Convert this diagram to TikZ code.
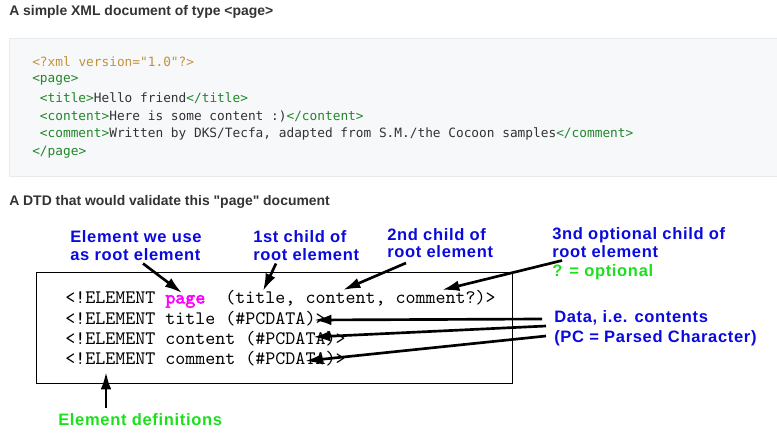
\documentclass[tikz,border=0pt]{standalone}
\usepackage{fontspec}
\setmainfont{Liberation Sans}
\newfontfamily\xmlfont{DejaVu Sans Mono}
\newfontfamily\dtdfont[BoldFont=lmmono10-regular.otf,BoldFeatures={FakeBold=2.5}]{lmmono10-regular.otf}
\newfontfamily\notefont[LetterSpace=4]{Liberation Sans}
\usetikzlibrary{arrows.meta,calc}
\definecolor{headgray}{HTML}{333333}
\definecolor{codebg}{HTML}{F6F8FA}
\definecolor{codeborder}{HTML}{E8EAED}
\definecolor{declbrown}{HTML}{C4923A}
\definecolor{taggreen}{HTML}{22862A}
\definecolor{xmltext}{HTML}{333333}
\definecolor{pagepink}{HTML}{FF00FF}
\definecolor{noteblue}{HTML}{0A0ADC}
\definecolor{notegreen}{HTML}{1CE01C}
\newcommand{\xmltag}[1]{\textcolor{taggreen}{#1}}
\tikzstyle{heading}=[anchor=west, inner sep=0pt, text=headgray, font=\fontsize{10.45}{12}\selectfont\bfseries]
\tikzstyle{xml line}=[anchor=west, inner sep=0pt, text=xmltext, font=\fontsize{9.6}{12}\xmlfont]
\tikzstyle{dtd line}=[anchor=west, inner sep=0pt, font=\fontsize{14.3}{16}\dtdfont]
\tikzstyle{note blue}=[anchor=west, align=left, inner sep=0pt, text=noteblue, font=\fontsize{12.4}{13}\notefont\bfseries]
\tikzstyle{note green}=[note blue, text=notegreen]
\tikzstyle{pointer}=[->, line width=2pt]

\begin{document}
\begin{tikzpicture}[x=0.75pt,y=-0.75pt,>={Latex[length=13pt,width=8pt]}]
    \useasboundingbox (0,0) rectangle (777,442);

    % Headings
    \draw (9,12) node[heading] (xmlhead) {A simple XML document of type <page>};
    \draw (9,202) node[heading] (dtdhead) {A DTD that would validate this \textquotedbl page\textquotedbl\ document};

    % XML sample
    \draw[fill=codebg, draw=codeborder] (9,38) rectangle (778,176);
    \draw (32,62) node[xml line, text=declbrown] (xmldecl) {<?xml version="1.0"?>};
    \draw (32,80) node[xml line] (xmlpage) {\xmltag{<page>}};
    \draw (39.7,98) node[xml line] (xmltitle) {\xmltag{<title>}Hello friend\xmltag{</title>}};
    \draw (39.7,116) node[xml line] (xmlcontent) {\xmltag{<content>}Here is some content :)\xmltag{</content>}};
    \draw (39.7,134) node[xml line] (xmlcomment) {\xmltag{<comment>}Written by DKS/Tecfa, adapted from S.M./the Cocoon samples\xmltag{</comment>}};
    \draw (32,152) node[xml line] (xmlend) {\xmltag{</page>}};

    % DTD
    \draw[line width=0.75pt] (36,272) rectangle (512,383);
    \draw (65,299) node[dtd line] (dtdpage) {<!ELEMENT \textcolor{pagepink}{\textbf{page}}\ \ (title, content, comment?)>};
    \draw (65,319) node[dtd line] (dtdtitle) {<!ELEMENT title (\#PCDATA)>};
    \draw (65,339) node[dtd line] (dtdcontent) {<!ELEMENT content (\#PCDATA)>};
    \draw (65,359) node[dtd line] (dtdcomment) {<!ELEMENT comment (\#PCDATA)>};

    % Notes
    \draw (70,245.5) node[note blue] (rootnote) {Element we use\\as root element};
    \draw (253,245.5) node[note blue] (firstnote) {1st child of\\root element};
    \draw (387,243) node[note blue] (secondnote) {2nd child of\\root element};
    \draw (552,242.5) node[note blue] (thirdnote) {3nd optional child of\\root element};
    \draw (552,272) node[note green] (optnote) {? = optional};
    \draw (554,328) node[note blue] (datanote) {Data, i.e. contents\\[2pt](PC = Parsed Character)};
    \draw (58,420) node[note green] (defnote) {Element definitions};

    % Arrow tips
    \coordinate (pagetip) at (182,293);
    \coordinate (titletip) at (263,291);
    \coordinate (contenttip) at (343,290);
    \coordinate (commenttip) at (442,290);
    \coordinate (datatip1) at (314,320);
    \coordinate (datatip2) at (313,337);
    \coordinate (datatip3) at (305,361);
    \coordinate (deftip) at (106,372);

    % Pointers
    \draw[pointer] ($(rootnote.south west)+(73,3)$) -- (pagetip);
    \draw[pointer] ($(firstnote.south west)+(23,3)$) -- (titletip);
    \draw[pointer] ($(secondnote.south west)+(19,5)$) -- (contenttip);
    \draw[pointer] ($(thirdnote.south west)+(10,3)$) -- (commenttip);
    \draw[pointer] ($(datanote.west)+(-12,-9)$) -- (datatip1);
    \draw[pointer] ($(datanote.west)+(-8,-2)$) -- (datatip2);
    \draw[pointer] ($(datanote.west)+(-8,8)$) -- (datatip3);
    \draw[pointer] ($(defnote.north west)+(48,-6)$) -- (deftip);

\end{tikzpicture}
\end{document}
